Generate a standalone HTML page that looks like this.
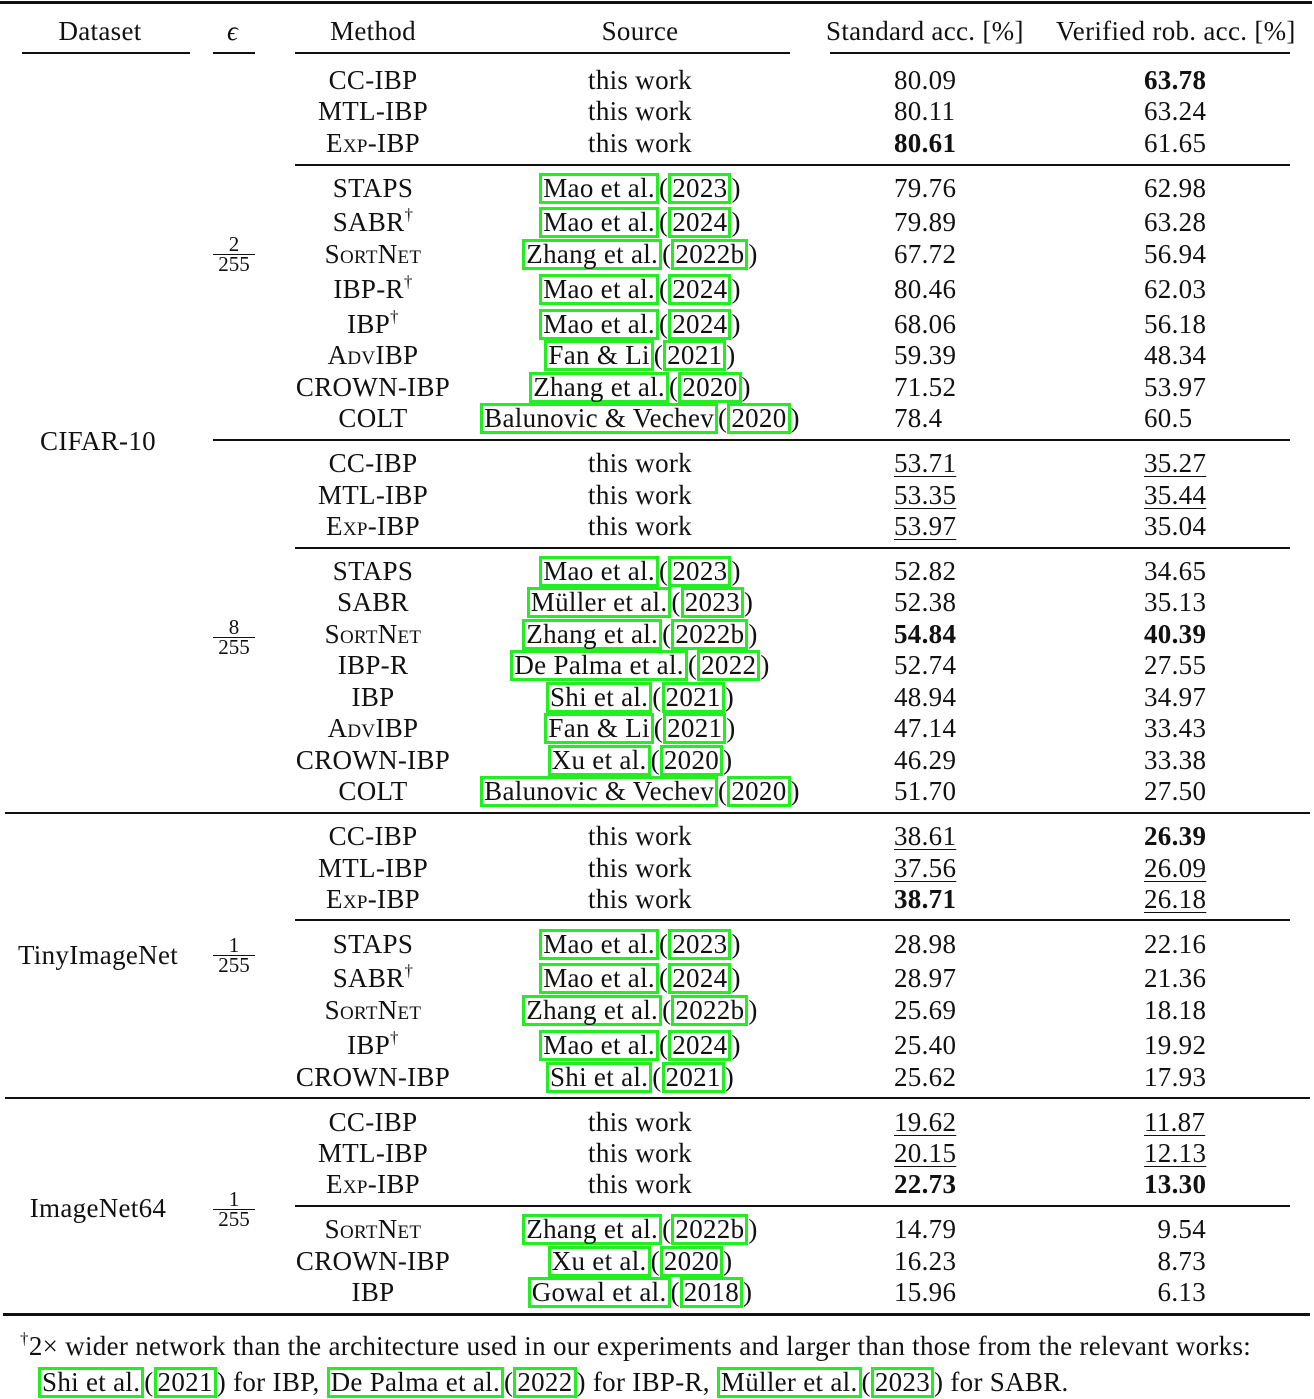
<!DOCTYPE html>
<html><head><meta charset="utf-8"><style>
body{margin:0;width:1314px;height:1399px;background:#fff;position:relative;font-family:"Liberation Serif",serif;font-size:27px;letter-spacing:0.3px;color:#111;overflow:hidden}
.r{position:absolute;left:0;width:1314px;height:32px;line-height:32px;white-space:nowrap}
.r span.m{position:absolute;left:253px;width:240px;text-align:center}
.r span.s{position:absolute;left:420px;width:440px;text-align:center}
.r span.a{position:absolute;left:894px}
.r span.v{position:absolute;left:1144px}
.r span.vr{position:absolute;left:1105px;width:101px;text-align:right}
.b{display:inline-block;border:3px solid #2e2;line-height:25px;padding:0 1px}
.sc{font-variant:small-caps}
sup{font-size:17px;line-height:0;vertical-align:11px}
.u{text-decoration:underline;text-underline-offset:4px;text-decoration-thickness:1px}
.h{position:absolute;background:#111;height:1.5px}
.f{position:absolute;left:213px;width:42px;text-align:center;font-size:21px;line-height:19px;letter-spacing:0}
.f div:first-child{border-bottom:1.3px solid #111}
</style></head><body>
<div class="h" style="left:0;top:1px;width:1312px;height:3px"></div>
<div class="r" style="top:15px"><span style="position:absolute;left:20px;width:160px;text-align:center">Dataset</span><span style="position:absolute;left:227px;font-style:italic">ϵ</span><span class="m">Method</span><span class="s">Source</span><span style="position:absolute;left:826px">Standard acc. [%]</span><span style="position:absolute;left:1056px">Verified rob. acc. [%]</span></div>
<div class="h" style="left:22px;top:52px;width:168px"></div>
<div class="h" style="left:213px;top:52px;width:42px"></div>
<div class="h" style="left:295px;top:52px;width:495px"></div>
<div class="h" style="left:830px;top:52px;width:460px"></div>

<div class="r" style="top:64px"><span class="m">CC-IBP</span><span class="s">this work</span><span class="a">80.09</span><span class="v"><b>63.78</b></span></div>
<div class="r" style="top:95px"><span class="m">MTL-IBP</span><span class="s">this work</span><span class="a">80.11</span><span class="v">63.24</span></div>
<div class="r" style="top:127px"><span class="m"><span class="sc">Exp</span>-IBP</span><span class="s">this work</span><span class="a"><b>80.61</b></span><span class="v">61.65</span></div>
<div class="h" style="left:295px;top:164px;width:995px"></div>
<div class="r" style="top:172px"><span class="m">STAPS</span><span class="s"><span class="b">Mao et al.</span>(<span class="b">2023</span>)</span><span class="a">79.76</span><span class="v">62.98</span></div>
<div class="r" style="top:206px"><span class="m">SABR<sup>†</sup></span><span class="s"><span class="b">Mao et al.</span>(<span class="b">2024</span>)</span><span class="a">79.89</span><span class="v">63.28</span></div>
<div class="r" style="top:238px"><span class="m"><span class="sc">SortNet</span></span><span class="s"><span class="b">Zhang et al.</span>(<span class="b">2022b</span>)</span><span class="a">67.72</span><span class="v">56.94</span></div>
<div class="r" style="top:273px"><span class="m">IBP-R<sup>†</sup></span><span class="s"><span class="b">Mao et al.</span>(<span class="b">2024</span>)</span><span class="a">80.46</span><span class="v">62.03</span></div>
<div class="r" style="top:308px"><span class="m">IBP<sup>†</sup></span><span class="s"><span class="b">Mao et al.</span>(<span class="b">2024</span>)</span><span class="a">68.06</span><span class="v">56.18</span></div>
<div class="r" style="top:339px"><span class="m"><span class="sc">AdvIBP</span></span><span class="s"><span class="b">Fan &amp; Li</span>(<span class="b">2021</span>)</span><span class="a">59.39</span><span class="v">48.34</span></div>
<div class="r" style="top:371px"><span class="m">CROWN-IBP</span><span class="s"><span class="b">Zhang et al.</span>(<span class="b">2020</span>)</span><span class="a">71.52</span><span class="v">53.97</span></div>
<div class="r" style="top:402px"><span class="m">COLT</span><span class="s"><span class="b">Balunovic &amp; Vechev</span>(<span class="b">2020</span>)</span><span class="a">78.4</span><span class="v">60.5</span></div>
<div class="h" style="left:213px;top:439px;width:1077px"></div>
<div class="r" style="top:447px"><span class="m">CC-IBP</span><span class="s">this work</span><span class="a u">53.71</span><span class="v u">35.27</span></div>
<div class="r" style="top:479px"><span class="m">MTL-IBP</span><span class="s">this work</span><span class="a u">53.35</span><span class="v u">35.44</span></div>
<div class="r" style="top:510px"><span class="m"><span class="sc">Exp</span>-IBP</span><span class="s">this work</span><span class="a u">53.97</span><span class="v">35.04</span></div>
<div class="h" style="left:295px;top:547px;width:995px"></div>
<div class="r" style="top:555px"><span class="m">STAPS</span><span class="s"><span class="b">Mao et al.</span>(<span class="b">2023</span>)</span><span class="a">52.82</span><span class="v">34.65</span></div>
<div class="r" style="top:586px"><span class="m">SABR</span><span class="s"><span class="b">Müller et al.</span>(<span class="b">2023</span>)</span><span class="a">52.38</span><span class="v">35.13</span></div>
<div class="r" style="top:618px"><span class="m"><span class="sc">SortNet</span></span><span class="s"><span class="b">Zhang et al.</span>(<span class="b">2022b</span>)</span><span class="a"><b>54.84</b></span><span class="v"><b>40.39</b></span></div>
<div class="r" style="top:649px"><span class="m">IBP-R</span><span class="s"><span class="b">De Palma et al.</span>(<span class="b">2022</span>)</span><span class="a">52.74</span><span class="v">27.55</span></div>
<div class="r" style="top:681px"><span class="m">IBP</span><span class="s"><span class="b">Shi et al.</span>(<span class="b">2021</span>)</span><span class="a">48.94</span><span class="v">34.97</span></div>
<div class="r" style="top:712px"><span class="m"><span class="sc">AdvIBP</span></span><span class="s"><span class="b">Fan &amp; Li</span>(<span class="b">2021</span>)</span><span class="a">47.14</span><span class="v">33.43</span></div>
<div class="r" style="top:744px"><span class="m">CROWN-IBP</span><span class="s"><span class="b">Xu et al.</span>(<span class="b">2020</span>)</span><span class="a">46.29</span><span class="v">33.38</span></div>
<div class="r" style="top:775px"><span class="m">COLT</span><span class="s"><span class="b">Balunovic &amp; Vechev</span>(<span class="b">2020</span>)</span><span class="a">51.70</span><span class="v">27.50</span></div>
<div class="h" style="left:5px;top:812px;width:1305px"></div>
<div class="r" style="top:820px"><span class="m">CC-IBP</span><span class="s">this work</span><span class="a u">38.61</span><span class="v"><b>26.39</b></span></div>
<div class="r" style="top:852px"><span class="m">MTL-IBP</span><span class="s">this work</span><span class="a u">37.56</span><span class="v u">26.09</span></div>
<div class="r" style="top:883px"><span class="m"><span class="sc">Exp</span>-IBP</span><span class="s">this work</span><span class="a"><b>38.71</b></span><span class="v u">26.18</span></div>
<div class="h" style="left:295px;top:919px;width:995px"></div>
<div class="r" style="top:928px"><span class="m">STAPS</span><span class="s"><span class="b">Mao et al.</span>(<span class="b">2023</span>)</span><span class="a">28.98</span><span class="v">22.16</span></div>
<div class="r" style="top:962px"><span class="m">SABR<sup>†</sup></span><span class="s"><span class="b">Mao et al.</span>(<span class="b">2024</span>)</span><span class="a">28.97</span><span class="v">21.36</span></div>
<div class="r" style="top:994px"><span class="m"><span class="sc">SortNet</span></span><span class="s"><span class="b">Zhang et al.</span>(<span class="b">2022b</span>)</span><span class="a">25.69</span><span class="v">18.18</span></div>
<div class="r" style="top:1029px"><span class="m">IBP<sup>†</sup></span><span class="s"><span class="b">Mao et al.</span>(<span class="b">2024</span>)</span><span class="a">25.40</span><span class="v">19.92</span></div>
<div class="r" style="top:1061px"><span class="m">CROWN-IBP</span><span class="s"><span class="b">Shi et al.</span>(<span class="b">2021</span>)</span><span class="a">25.62</span><span class="v">17.93</span></div>
<div class="h" style="left:5px;top:1097px;width:1305px"></div>
<div class="r" style="top:1106px"><span class="m">CC-IBP</span><span class="s">this work</span><span class="a u">19.62</span><span class="v u">11.87</span></div>
<div class="r" style="top:1137px"><span class="m">MTL-IBP</span><span class="s">this work</span><span class="a u">20.15</span><span class="v u">12.13</span></div>
<div class="r" style="top:1168px"><span class="m"><span class="sc">Exp</span>-IBP</span><span class="s">this work</span><span class="a"><b>22.73</b></span><span class="v"><b>13.30</b></span></div>
<div class="h" style="left:295px;top:1205px;width:995px"></div>
<div class="r" style="top:1213px"><span class="m"><span class="sc">SortNet</span></span><span class="s"><span class="b">Zhang et al.</span>(<span class="b">2022b</span>)</span><span class="a">14.79</span><span class="vr">9.54</span></div>
<div class="r" style="top:1245px"><span class="m">CROWN-IBP</span><span class="s"><span class="b">Xu et al.</span>(<span class="b">2020</span>)</span><span class="a">16.23</span><span class="vr">8.73</span></div>
<div class="r" style="top:1276px"><span class="m">IBP</span><span class="s"><span class="b">Gowal et al.</span>(<span class="b">2018</span>)</span><span class="a">15.96</span><span class="vr">6.13</span></div>
<div class="h" style="left:3px;top:1313px;width:1307px;height:3px"></div>

<div class="r" style="top:425px;width:196px;text-align:center">CIFAR-10</div>
<div class="r" style="top:939px;width:196px;text-align:center">TinyImageNet</div>
<div class="r" style="top:1192px;width:196px;text-align:center">ImageNet64</div>
<div class="f" style="top:235px"><div>2</div><div>255</div></div>
<div class="f" style="top:618px"><div>8</div><div>255</div></div>
<div class="f" style="top:936px"><div>1</div><div>255</div></div>
<div class="f" style="top:1190px"><div>1</div><div>255</div></div>

<div class="r" style="top:1330px;left:20px"><sup>†</sup>2× wider network than the architecture used in our experiments and larger than those from the relevant works:</div>
<div class="r" style="top:1366px;left:38px"><span class="b">Shi et al.</span>(<span class="b">2021</span>) for IBP, <span class="b">De Palma et al.</span>(<span class="b">2022</span>) for IBP-R, <span class="b">Müller et al.</span>(<span class="b">2023</span>) for SABR.</div>
</body></html>
